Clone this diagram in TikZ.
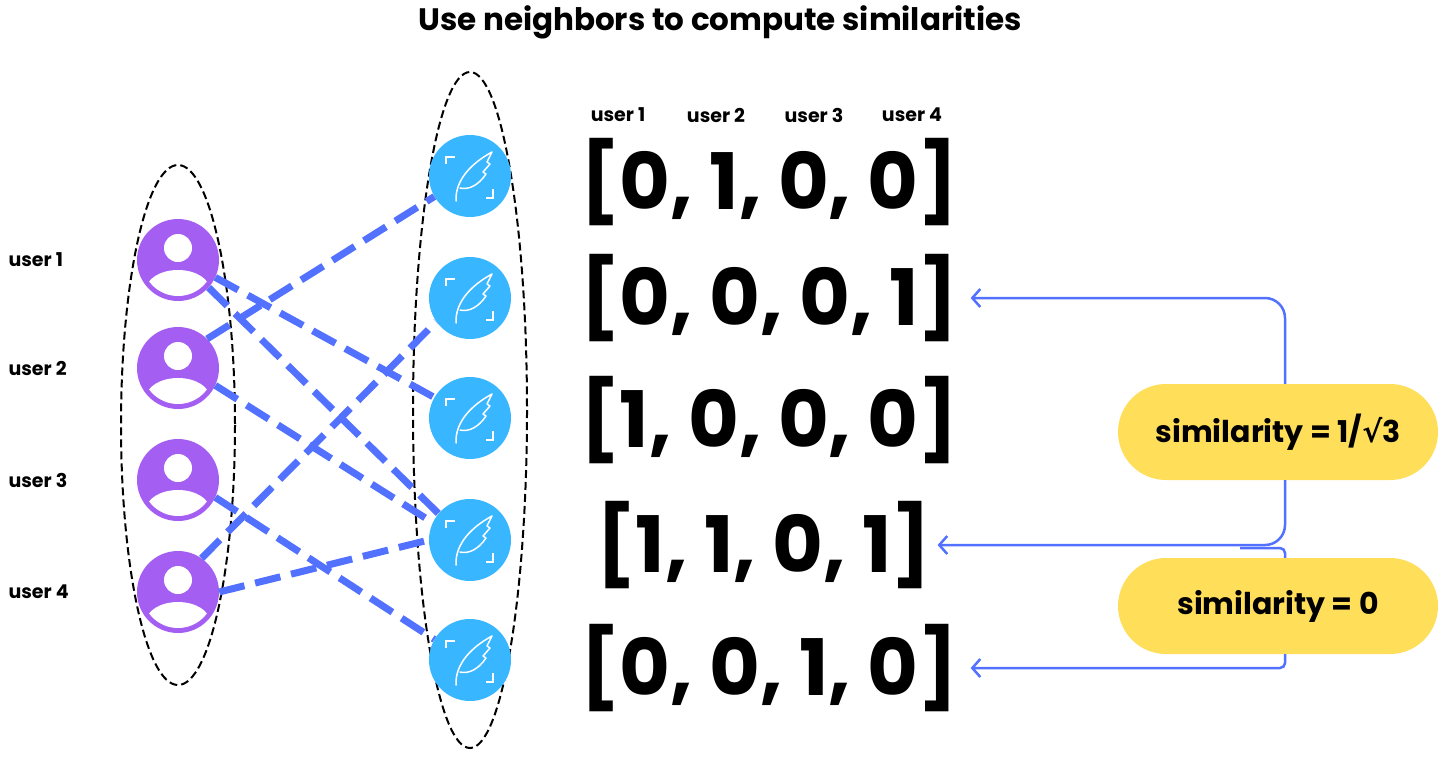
\documentclass[tikz,border=0pt]{standalone}
\usepackage{fontspec}
\setmainfont{Poppins}
\newfontfamily\symfont{DejaVu Sans}
\definecolor{userpurple}{HTML}{A55EF2}
\definecolor{itemblue}{HTML}{38B6FF}
\definecolor{edgeblue}{HTML}{5271FF}
\definecolor{pillyellow}{HTML}{FFDE59}
\tikzset{
  user/.style={circle, fill=userpurple, minimum size=82pt, inner sep=0pt},
  item/.style={circle, fill=itemblue, minimum size=82pt, inner sep=0pt},
  edge/.style={edgeblue, line width=7pt, dash pattern=on 26pt off 11pt},
  group/.style={draw, line width=2pt, dash pattern=on 8pt off 4pt},
  vec/.style={anchor=west, font=\fontsize{78}{78}\selectfont\bfseries, inner sep=0pt},
  pill/.style={fill=pillyellow, rounded corners=48pt, minimum width=320pt, minimum height=96pt, font=\fontsize{30}{30}\selectfont\bfseries},
  link/.style={edgeblue, line width=2.5pt, rounded corners=20pt, -{Straight Barb[length=8pt,width=18pt]}},
}
\usetikzlibrary{arrows.meta}
\begin{document}
\begin{tikzpicture}[x=1pt,y=-1pt]
\useasboundingbox (0,0) rectangle (1456,784);
% Title
\node[font=\fontsize{31}{31}\selectfont\bfseries] (title) at (720,22) {Use neighbors to compute similarities};

% Groups
\draw[group] (178,425) ellipse (57 and 260);
\draw[group] (470,410) ellipse (57 and 338);

% Users
\foreach \i/\y in {1/260,2/368,3/480,4/592}{
  \node[user] (u\i) at (178,\y) {};
  \begin{scope}
    \clip (178,\y) circle (36);
    \fill[white] (178,\y-12) circle (14);
    \fill[white] (178,\y+30) ellipse (32 and 20);
  \end{scope}
  \node[font=\fontsize{19}{19}\selectfont\bfseries, anchor=west] (lu\i) at (5,\y) {user \i};
}

% Items
\foreach \j/\y in {1/176,2/298,3/418,4/540,5/660}{
  \node[item] (p\j) at (470,\y) {};
  \draw[white, line width=1.8pt] (446,\y-12) -- (446,\y-19) -- (455,\y-19);
  \draw[white, line width=1.8pt] (486,\y+22) -- (493,\y+22) -- (493,\y+13);
  \draw[white, line width=1.5pt, line cap=round, line join=round] (456,\y+25) .. controls (455,\y+5) and (470,\y-12) .. (492,\y-24)
     -- (487,\y-14) -- (490,\y-12) -- (483,\y-4) -- (486,\y-2) .. controls (478,\y+10) and (468,\y+14) .. (460,\y+12);
}

% Edges
\draw[edge] (u1.-25) -- (p3.150);
\draw[edge] (u1.-42) -- (p4.140);
\draw[edge] (u2.45) -- (p1.210);
\draw[edge] (u2.-25) -- (p4.155);
\draw[edge] (u3.-25) -- (p5.150);
\draw[edge] (u4.55) -- (p2.215);
\draw[edge] (u4.east) -- (p4.west);

% Vectors
\foreach \x/\k in {618/1,716/2,814/3,912/4}
  \node[font=\fontsize{19}{19}\selectfont\bfseries] (h\k) at (\x,115) {user \k};
\node[vec] (v1) at (580,182) {[0, 1, 0, 0]};
\node[vec] (v2) at (580,298) {[0, 0, 0, 1]};
\node[vec] (v3) at (580,420) {[1, 0, 0, 0]};
\node[vec] (v4) at (596,545) {[1, 1, 0, 1]};
\node[vec] (v5) at (580,668) {[0, 0, 1, 0]};

% Similarities
\node[pill] (s1) at (1278,432) {similarity = 1/{\symfont √}3};
\node[pill] (s0) at (1278,606) {similarity = 0};
\draw[link] (s1.north -| 1285,0) |- ([xshift=12pt]v2.east);
\draw[link] (s1.south -| 1285,0) |- ([xshift=6pt]v4.east);
\draw[edgeblue, line width=2.5pt, rounded corners=5pt] (1240,548) -| (s0.north -| 1285,0);
\draw[link, rounded corners=5pt] (s0.south -| 1285,0) |- ([xshift=12pt]v5.east);
\end{tikzpicture}
\end{document}
